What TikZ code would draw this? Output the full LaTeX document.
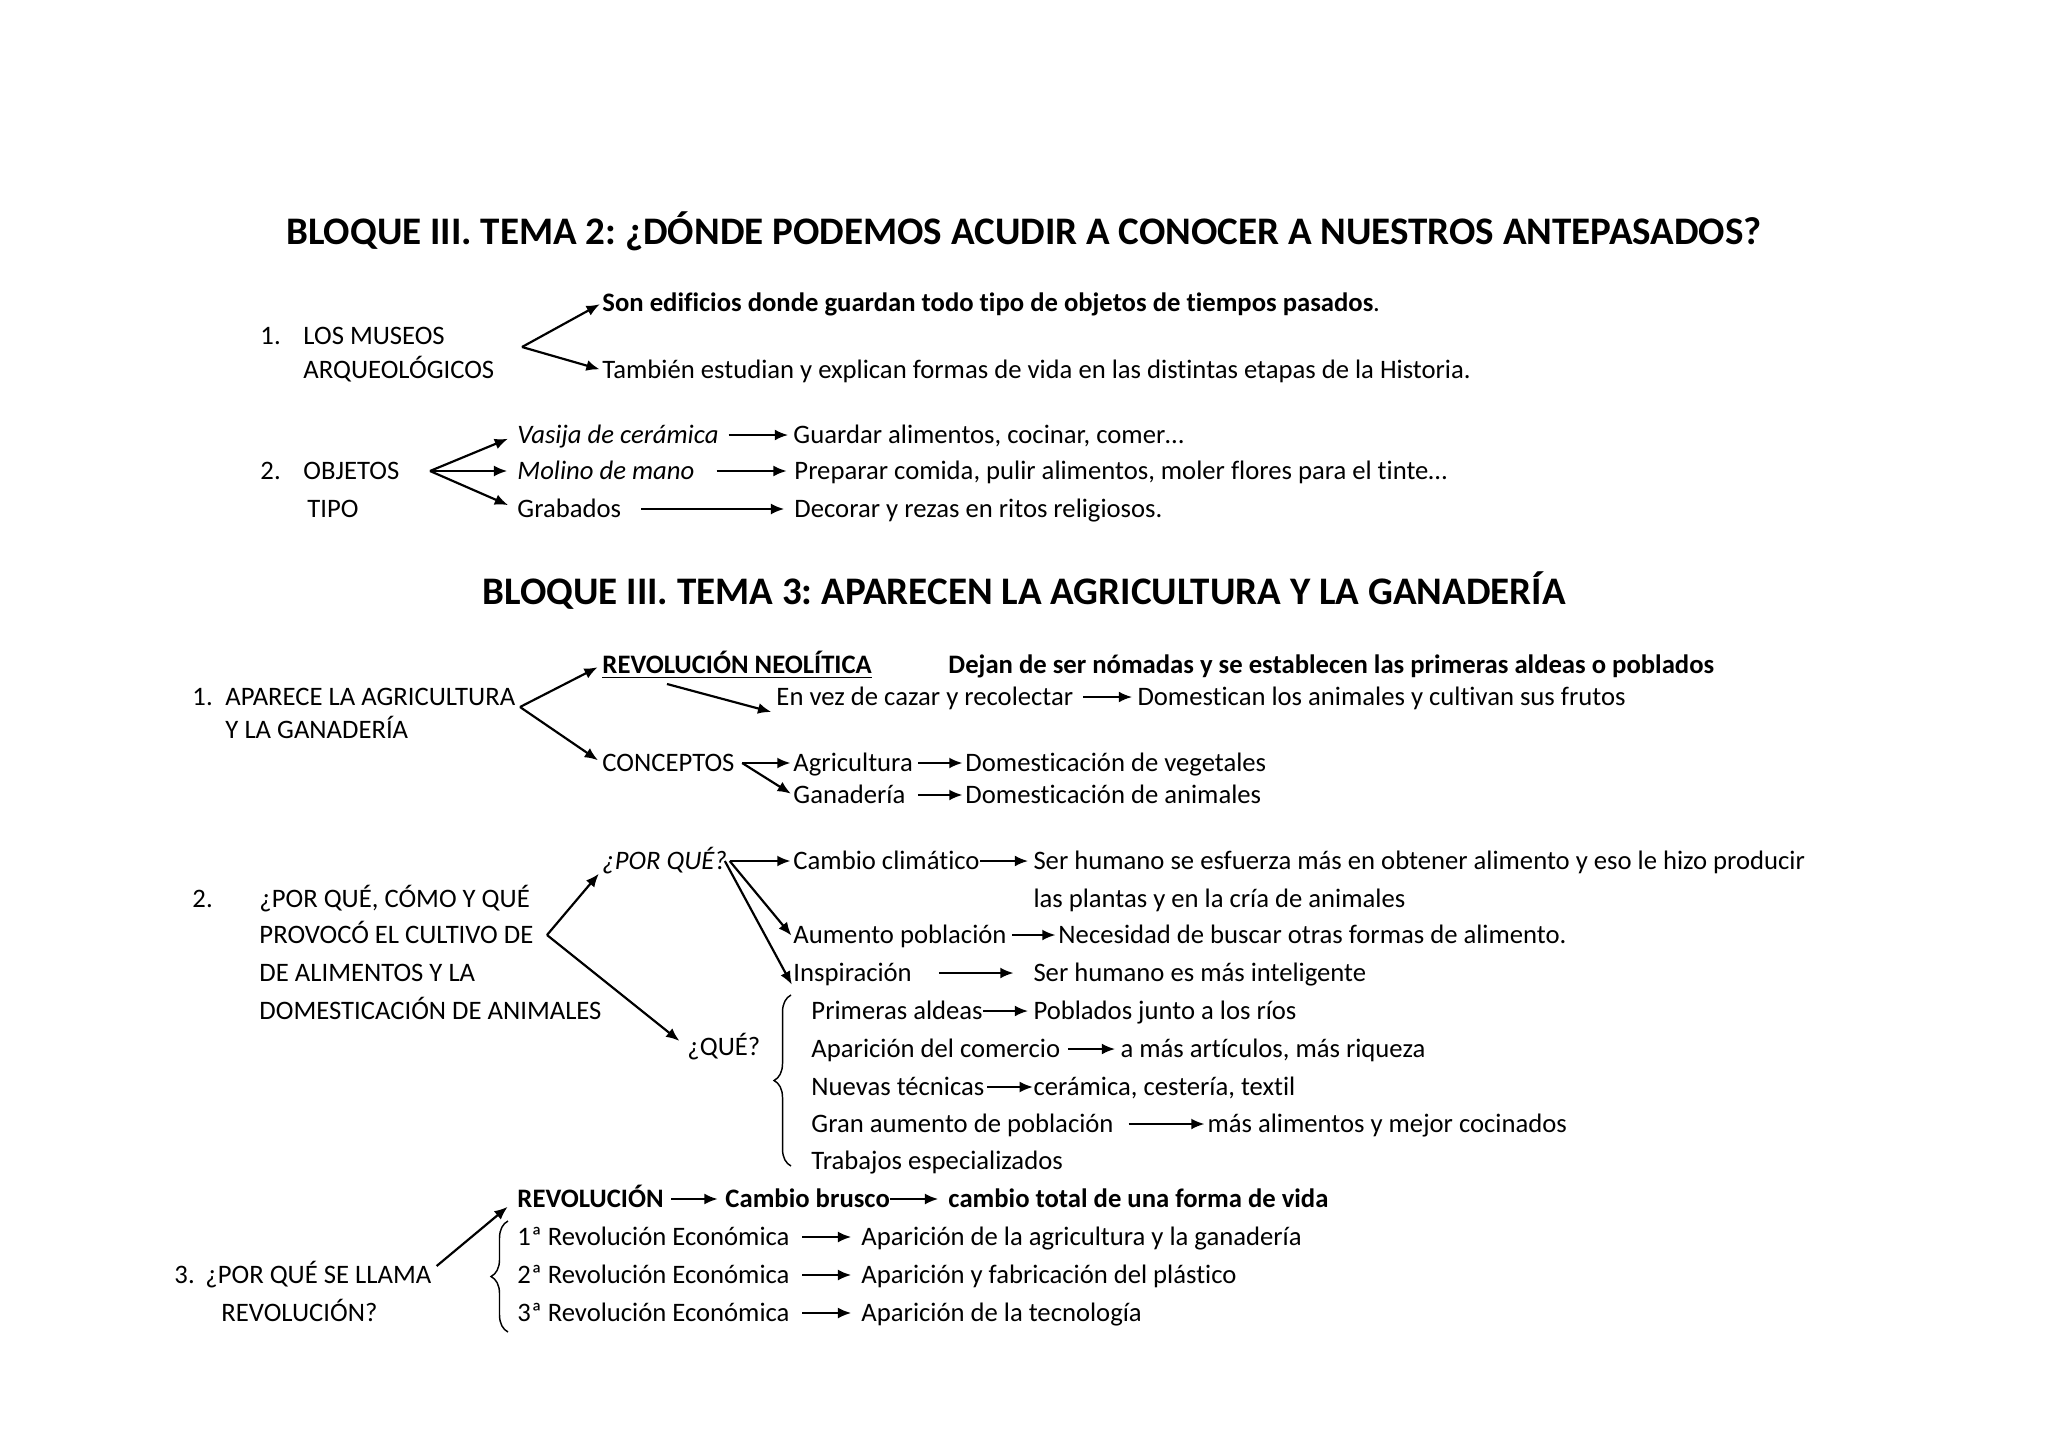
\documentclass[tikz,border=0pt]{standalone}
\usepackage{fontspec}
\setmainfont{Carlito}[Ligatures=NoCommon]
\usepackage{tikz}
\usetikzlibrary{calc,arrows.meta,decorations.pathreplacing}
\frenchspacing

\begin{document}
\begin{tikzpicture}[x=0.0145cm, y=-0.0145cm,
        lbl/.style={anchor=west, inner sep=0pt, text height=7pt, text depth=0pt,
            font=\fontsize{11}{13}\selectfont},
        ttl/.style={inner sep=0pt, text height=10pt, text depth=0pt,
            font=\fontsize{16.1}{19}\selectfont\bfseries},
        arr/.style={-{Latex[length=5.5pt,width=4.5pt]}, line width=0.9pt},
        llave/.style={decorate, decoration={brace, amplitude=7pt}, line width=0.6pt}]
        \useasboundingbox[fill=white] (0,0) rectangle (2048,1449);

        % titulos
        \node[ttl] (tema2) at (1024,232) {BLOQUE III. TEMA 2: ¿DÓNDE PODEMOS ACUDIR A CONOCER A NUESTROS ANTEPASADOS?};
        \node[ttl] (tema3) at (1024,592) {BLOQUE III. TEMA 3: APARECEN LA AGRICULTURA Y LA GANADERÍA};

        % museos
        \node[lbl] (num1) at (260,336) {1.};
        \node[lbl] (museos) at (303,336) {LOS MUSEOS};
        \node[lbl] (arqueo) at (303,370) {ARQUEOLÓGICOS};
        \node[lbl] (edificios) at (602,303) {\textbf{Son edificios donde guardan todo tipo de objetos de tiempos pasados}.};
        \node[lbl] (tambien) at (602,370) {También estudian y explican formas de vida en las distintas etapas de la Historia.};
        \coordinate (vmus) at (522,347);
        \draw[arr,shorten >=1pt] (vmus) -- (edificios.west);
        \draw[arr,shorten >=1pt] (vmus) -- (tambien.west);

        % objetos tipo
        \node[lbl] (num2) at (260,471) {2.};
        \node[lbl] (objetos) at (303,471) {OBJETOS};
        \node[lbl] (tipo) at (307,509) {TIPO};
        \node[lbl] (vasija) at (517,435) {\itshape Vasija de cerámica};
        \node[lbl] (molino) at (517,471) {\itshape Molino de mano};
        \node[lbl] (grabados) at (517,509) {Grabados};
        \node[lbl] (guardar) at (793,435) {Guardar alimentos, cocinar, comer…};
        \node[lbl] (preparar) at (794,471) {Preparar comida, pulir alimentos, moler flores para el tinte…};
        \node[lbl] (decorar) at (794,509) {Decorar y rezas en ritos religiosos.};
        \coordinate (vobj) at (430,471);
        \foreach \o in {vasija,molino,grabados}
        \draw[arr,shorten >=4pt] (vobj) -- (\o.west);
        \draw[arr,shorten >=2pt] ([xshift=4pt]vasija.east) -- (guardar.west);
        \draw[arr,shorten >=3pt] ([xshift=9pt]molino.east) -- (preparar.west);
        \draw[arr,shorten >=4pt] ([xshift=8pt]grabados.east) -- (decorar.west);

        % tema 3, apartado 1
        \node[lbl] (num31) at (192,697) {1.};
        \node[lbl] (aparece) at (225,697) {APARECE LA AGRICULTURA};
        \node[lbl] (ylagan) at (225,730) {Y LA GANADERÍA};
        \node[lbl] (revneo) at (602,665) {\textbf{\underline{REVOLUCIÓN NEOLÍTICA}}};
        \node[lbl] (dejan) at (948,665) {\bfseries Dejan de ser nómadas y se establecen las primeras aldeas o poblados};
        \node[lbl] (envez) at (776,697) {En vez de cazar y recolectar};
        \node[lbl] (domestican) at (1137,697) {Domestican los animales y cultivan sus frutos};
        \node[lbl] (conceptos) at (602,763) {CONCEPTOS};
        \node[lbl] (agri) at (793,763) {Agricultura};
        \node[lbl] (gana) at (793,795) {Ganadería};
        \node[lbl] (domveg) at (965,763) {Domesticación de vegetales};
        \node[lbl] (domani) at (965,795) {Domesticación de animales};
        \coordinate (vapa) at (520,707);
        \coordinate (rneo) at (667,684);
        \draw[arr,shorten >=2pt] (vapa) -- (revneo.west);
        \draw[arr,shorten >=2pt] (vapa) -- (conceptos.west);
        \draw[arr,shorten >=2pt] (rneo) -- ([yshift=-3pt]envez.south west);
        \draw[arr,shorten >=2pt] ([xshift=4pt]envez.east) -- (domestican.west);
        \draw[arr,shorten >=1pt] ([xshift=3pt]conceptos.east) -- (agri.west);
        \draw[arr,shorten >=1pt] ([xshift=3pt]conceptos.east) -- (gana.west);
        \draw[arr,shorten >=1pt] ([xshift=2pt]agri.east) -- (domveg.west);
        \draw[arr,shorten >=1pt] ([xshift=5pt]gana.east) -- (domani.west);

        % tema 3, apartado 2
        \node[lbl] (num32) at (192,899) {2.};
        \node[lbl] (preg1) at (259,899) {¿POR QUÉ, CÓMO Y QUÉ};
        \node[lbl] (preg2) at (259,935) {PROVOCÓ EL CULTIVO DE};
        \node[lbl] (preg3) at (259,973) {DE ALIMENTOS Y LA};
        \node[lbl] (preg4) at (259,1011) {DOMESTICACIÓN DE ANIMALES};
        \node[lbl] (porque) at (602,861) {\itshape ¿POR QUÉ?};
        \node[lbl] (que) at (687,1047) {¿QUÉ?};
        \node[lbl] (cambio) at (793,861) {Cambio climático};
        \node[lbl] (esfuerza) at (1033,861) {Ser humano se esfuerza más en obtener alimento y eso le hizo producir};
        \node[lbl] (plantas) at (1033,899) {las plantas y en la cría de animales};
        \node[lbl] (aumento) at (793,935) {Aumento población};
        \node[lbl] (necesidad) at (1058,935) {Necesidad de buscar otras formas de alimento.};
        \node[lbl] (inspi) at (793,973) {Inspiración};
        \node[lbl] (inteli) at (1033,973) {Ser humano es más inteligente};
        \coordinate (vpq) at (547,935);
        \draw[arr,shorten >=2pt] (vpq) -- (porque.south west);
        \draw[arr,shorten >=4pt] (vpq) -- (que.west);
        \draw[arr,shorten >=1pt] ([xshift=1pt]porque.east) -- (cambio.west);
        \draw[arr,shorten >=1pt] ([xshift=1pt]porque.east) -- ([yshift=-1pt]aumento.west);
        \draw[arr,shorten >=1pt] ([xshift=-1pt]porque.east) -- ([yshift=-2pt]inspi.south west);
        \draw[arr,shorten >=2pt] ([xshift=0pt]cambio.east) -- (esfuerza.west);
        \draw[arr,shorten >=1pt] ([xshift=2pt]aumento.east) -- (necesidad.west);
        \draw[arr,shorten >=8pt] ([xshift=11pt]inspi.east) -- (inteli.west);
        \draw[llave] (791,1166) -- (791,995);
        \node[lbl] (aldeas) at (811,1011) {Primeras aldeas};
        \node[lbl] (poblados) at (1033,1011) {Poblados junto a los ríos};
        \node[lbl] (comercio) at (811,1049) {Aparición del comercio};
        \node[lbl] (riqueza) at (1120,1049) {a más artículos, más riqueza};
        \node[lbl] (tecnicas) at (811,1087) {Nuevas técnicas};
        \node[lbl] (ceramica) at (1033,1087) {cerámica, cestería, textil};
        \node[lbl] (gran) at (811,1124) {Gran aumento de población};
        \node[lbl] (cocinados) at (1207,1124) {más alimentos y mejor cocinados};
        \node[lbl] (trabajos) at (811,1161) {Trabajos especializados};
        \draw[arr,shorten >=2pt] (aldeas.east) -- (poblados.west);
        \draw[arr,shorten >=2pt] ([xshift=3pt]comercio.east) -- (riqueza.west);
        \draw[arr,shorten >=0pt] ([xshift=1pt]tecnicas.east) -- (ceramica.west);
        \draw[arr,shorten >=1pt] ([xshift=6pt]gran.east) -- (cocinados.west);

        % tema 3, apartado 3
        \node[lbl] (num33) at (174,1275) {3.};
        \node[lbl] (llama) at (205,1275) {¿POR QUÉ SE LLAMA};
        \node[lbl] (revq) at (221,1313) {REVOLUCIÓN?};
        \node[lbl] (revo) at (517,1199) {\bfseries REVOLUCIÓN};
        \node[lbl] (brusco) at (725,1199) {\bfseries Cambio brusco};
        \node[lbl] (total) at (948,1199) {\bfseries cambio total de una forma de vida};
        \draw[arr,shorten >=5pt] ([xshift=2pt]llama.north east) -- (revo.west);
        \draw[arr,shorten >=3pt] ([xshift=3pt]revo.east) -- (brusco.west);
        \draw[arr,shorten >=4pt] (brusco.east) -- (total.west);
        \draw[llave] (508,1332) -- (508,1221);
        \foreach \n/\y/\txt in {1/1237/{Aparición de la agricultura y la ganadería},
            2/1275/{Aparición y fabricación del plástico},
            3/1313/{Aparición de la tecnología}}
        {
        \node[lbl] (eco\n) at (517,\y) {{\n}ª Revolución Económica};
        \node[lbl] (apar\n) at (861,\y) {\txt};
        \draw[arr,shorten >=4pt] ([xshift=5pt]eco\n.east) -- (apar\n.west);
        }
    \end{tikzpicture}
\end{document}
